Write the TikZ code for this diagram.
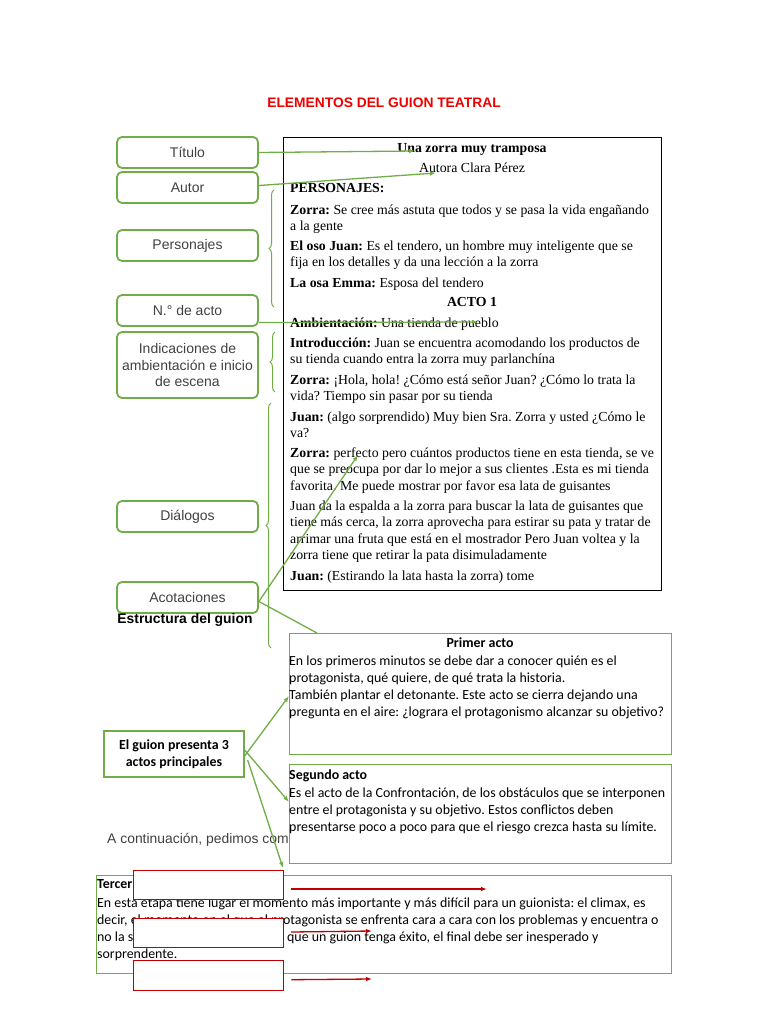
\documentclass[tikz,border=0pt]{standalone}
\usepackage{fontspec}
\setmainfont{Liberation Serif}
\setsansfont{Liberation Sans}
\newfontfamily\calib{Carlito}
\usetikzlibrary{arrows.meta,positioning,calc,decorations.pathreplacing}
\definecolor{mygreen}{RGB}{112,173,71}
\definecolor{myred}{RGB}{192,0,0}
\definecolor{titred}{RGB}{238,0,0}
\colorlet{myink}{black!75}
\frenchspacing

\begin{document}
\begin{tikzpicture}[
  x=1pt, y=-1pt,
  ttl/.style  ={font=\sffamily\bfseries\fontsize{13.8}{15}\selectfont, text=titred},
  lbl/.style  ={draw=mygreen, line width=1.8pt, rounded corners=5pt, minimum width=141pt,
                minimum height=31pt, inner sep=2pt, align=center, text=myink,
                font=\sffamily\fontsize{14}{16.5}\selectfont},
  scr/.style  ={font=\rmfamily\fontsize{13.8}{16.5}\selectfont, anchor=base west, align=left, inner sep=0pt},
  cal/.style  ={font=\calib\fontsize{13.9}{17}\selectfont, anchor=base west, align=left, inner sep=0pt},
  gbox/.style ={draw=mygreen, line width=1.3pt, anchor=north west, inner sep=0pt},
  rbox/.style ={draw=myred, fill=white, line width=1pt, anchor=north west, inner sep=0pt, minimum width=150pt},
  garr/.style ={draw=mygreen, line width=1.3pt, -{Latex[length=6pt,width=4.5pt]}},
  rarr/.style ={draw=myred, line width=1.3pt, -{Latex[length=6pt,width=4.5pt]}},
  brc/.style  ={draw=mygreen, line width=1pt, decorate, decoration={brace, amplitude=5pt}},
]
\useasboundingbox (0,0) rectangle (768,1024);

% ==================================================== title
\node[ttl] (title) at (384,103) {ELEMENTOS DEL GUION TEATRAL};

% ==================================================== left labels
\node[lbl] (titulo) at (187.5,152.5) {Título};
\node[lbl] (autor)  at (187.5,187.5) {Autor};
\node[lbl] (perso)  at (187.5,245.5) {Personajes};
\node[lbl] (nacto)  at (187.5,310.5) {N.° de acto};
\node[lbl, minimum height=66pt] (indic) at (187.5,365) {Indicaciones de\\ambientación e inicio\\de escena};
\node[lbl] (dialog) at (187.5,516.5) {Diálogos};
\node[lbl] (acot)   at (187.5,597.5) {Acotaciones};

\node[font=\sffamily\bfseries\fontsize{13.9}{15}\selectfont] (estr) at (185,620) {Estructura del guion};

% ==================================================== the script
% multi-line nodes sit on the baseline of their LAST line
\node[draw=black, line width=0.8pt, anchor=north west, inner sep=0pt,
      minimum width=378pt, minimum height=453pt] (guion) at (283,137) {};

\node[scr, anchor=base] (obra) at (472,153) {\textbf{Una zorra muy tramposa}};
\node[scr, anchor=base] (aut)  at (472,173) {Autora Clara Pérez};
\node[scr] (pers)  at (290,193)   {\textbf{PERSONAJES:}};
\node[scr] (p1)    at (290,230.5) {\textbf{Zorra:} Se cree más astuta que todos y se pasa la vida engañando\\a la gente};
\node[scr] (p2)    at (290,266.5) {\textbf{El oso Juan:} Es el tendero, un hombre muy inteligente que se\\fija en los detalles y da una lección a la zorra};
\node[scr] (p3)    at (290,287)   {\textbf{La osa Emma:} Esposa del tendero};
\node[scr, anchor=base] (acto) at (472,306) {\textbf{ACTO 1}};
\node[scr] (amb)   at (290,327)   {\textbf{Ambientación:} Una tienda de pueblo};
\node[scr] (intro) at (290,363.5) {\textbf{Introducción:} Juan se encuentra acomodando los productos de\\su tienda cuando entra la zorra muy parlanchína};
\node[scr] (d1)    at (290,400.5) {\textbf{Zorra:} ¡Hola, hola! ¿Cómo está señor Juan? ¿Cómo lo trata la\\vida? Tiempo sin pasar por su tienda};
\node[scr] (d2)    at (290,437.5) {\textbf{Juan:} (algo sorprendido) Muy bien Sra. Zorra y usted ¿Cómo le\\va?};
\node[scr] (d3)    at (290,490)   {\textbf{Zorra:} perfecto pero cuántos productos tiene en esta tienda, se ve\\que se preocupa por dar lo mejor a sus clientes .Esta es mi tienda\\favorita. Me puede mostrar por favor esa lata de guisantes};
\node[scr] (acot1) at (290,559.5) {Juan da la espalda a la zorra para buscar la lata de guisantes que\\tiene más cerca, la zorra aprovecha para estirar su pata y tratar de\\arrimar una fruta que está en el mostrador Pero Juan voltea y la\\zorra tiene que retirar la pata disimuladamente};
\node[scr] (d4)    at (290,580)   {\textbf{Juan:} (Estirando la lata hasta la zorra) tome};

% braces
\draw[brc] (274,307) -- (274,190);
\draw[brc] (275,392) -- (275,332);
\draw[brc] (271,648) -- (271,403);

% arrow ends inside the script
\coordinate (tUna)  at (415,151);
\coordinate (tAut)  at (436,173);
\coordinate (tPue)  at (478,322);
\coordinate (tPerf) at (358,455);
\coordinate (tPrim) at (317,633);

\draw[garr] (titulo.east) -- (tUna);
\draw[garr] ([yshift=2pt]autor.east) -- (tAut);
\draw[garr] ([yshift=-12pt]nacto.east) -- (tPue);
\draw[garr] ([yshift=-4pt]acot.east) -- (tPerf);
\draw[draw=mygreen, line width=1.3pt] ([yshift=-4pt]acot.east) -- (tPrim);

% ==================================================== the three acts
\node[gbox, minimum width=382pt, minimum height=121pt] (primer) at (289,633) {};
\node[cal, anchor=base] (primT) at (480,647) {\bfseries Primer acto};
\node[cal] (primB) at (289,716) {En los primeros minutos se debe dar a conocer quién es el\\protagonista, qué quiere, de qué trata la historia.\\También plantar el detonante. Este acto se cierra dejando una\\pregunta en el aire: ¿lograra el protagonismo alcanzar su objetivo?};

\node[gbox, minimum width=382pt, minimum height=99pt] (segundo) at (289,764) {};
\node[cal] (segT) at (289,779) {\bfseries Segundo acto};
\node[cal] (segB) at (289,831) {Es el acto de la Confrontación, de los obstáculos que se interponen\\entre el protagonista y su objetivo. Estos conflictos deben\\presentarse poco a poco para que el riesgo crezca hasta su límite.};

\node[gbox, anchor=center, minimum width=140pt, minimum height=46pt, align=center,
      font=\calib\bfseries\fontsize{13.9}{17}\selectfont] (tres) at (174,754) {El guion presenta 3\\actos principales};

\node[font=\sffamily\fontsize{13.9}{15}\selectfont, anchor=base west, inner sep=0pt, text=myink] (cont) at (107,843) {A continuación, pedimos com};

\node[gbox, minimum width=575pt, minimum height=98pt] (tercer) at (96,875) {};
\node[cal] (terT) at (97,888) {\bfseries Tercer acto};
\node[cal] (terB) at (97,958) {En esta etapa tiene lugar el momento más importante y más difícil para un guionista: el climax, es\\decir, el momento en el que el protagonista se enfrenta cara a cara con los problemas y encuentra o\\\makebox[190pt][l]{no la solución. Para}que un guion tenga éxito, el final debe ser inesperado y\\sorprendente.};

\coordinate (tSeg) at (289,802);
\coordinate (tTer) at (283,868);
\draw[garr] ([yshift=-2pt]tres.east) -- (primer.west |- 0,696);
\draw[garr] ([yshift=4pt]tres.east) -- (tSeg);
\draw[garr] ([shift={(3,6)}]tres.east) -- (tTer);

% ==================================================== red blanks
\node[rbox, minimum height=29pt] (r1) at (133,870) {};
\node[rbox, minimum height=29pt] (r2) at (133,918) {};
\node[rbox, minimum height=30pt, line width=1.4pt] (r3) at (133,960) {};

\coordinate (e1) at (487,889);
\coordinate (e2) at (372,931);
\coordinate (e3) at (372,979);
\draw[rarr] ([shift={(7,4)}]r1.east) -- (e1);
\draw[rarr] ([shift={(7,-1)}]r2.east) -- (e2);
\draw[rarr] ([shift={(7,4)}]r3.east) -- (e3);

\end{tikzpicture}
\end{document}
